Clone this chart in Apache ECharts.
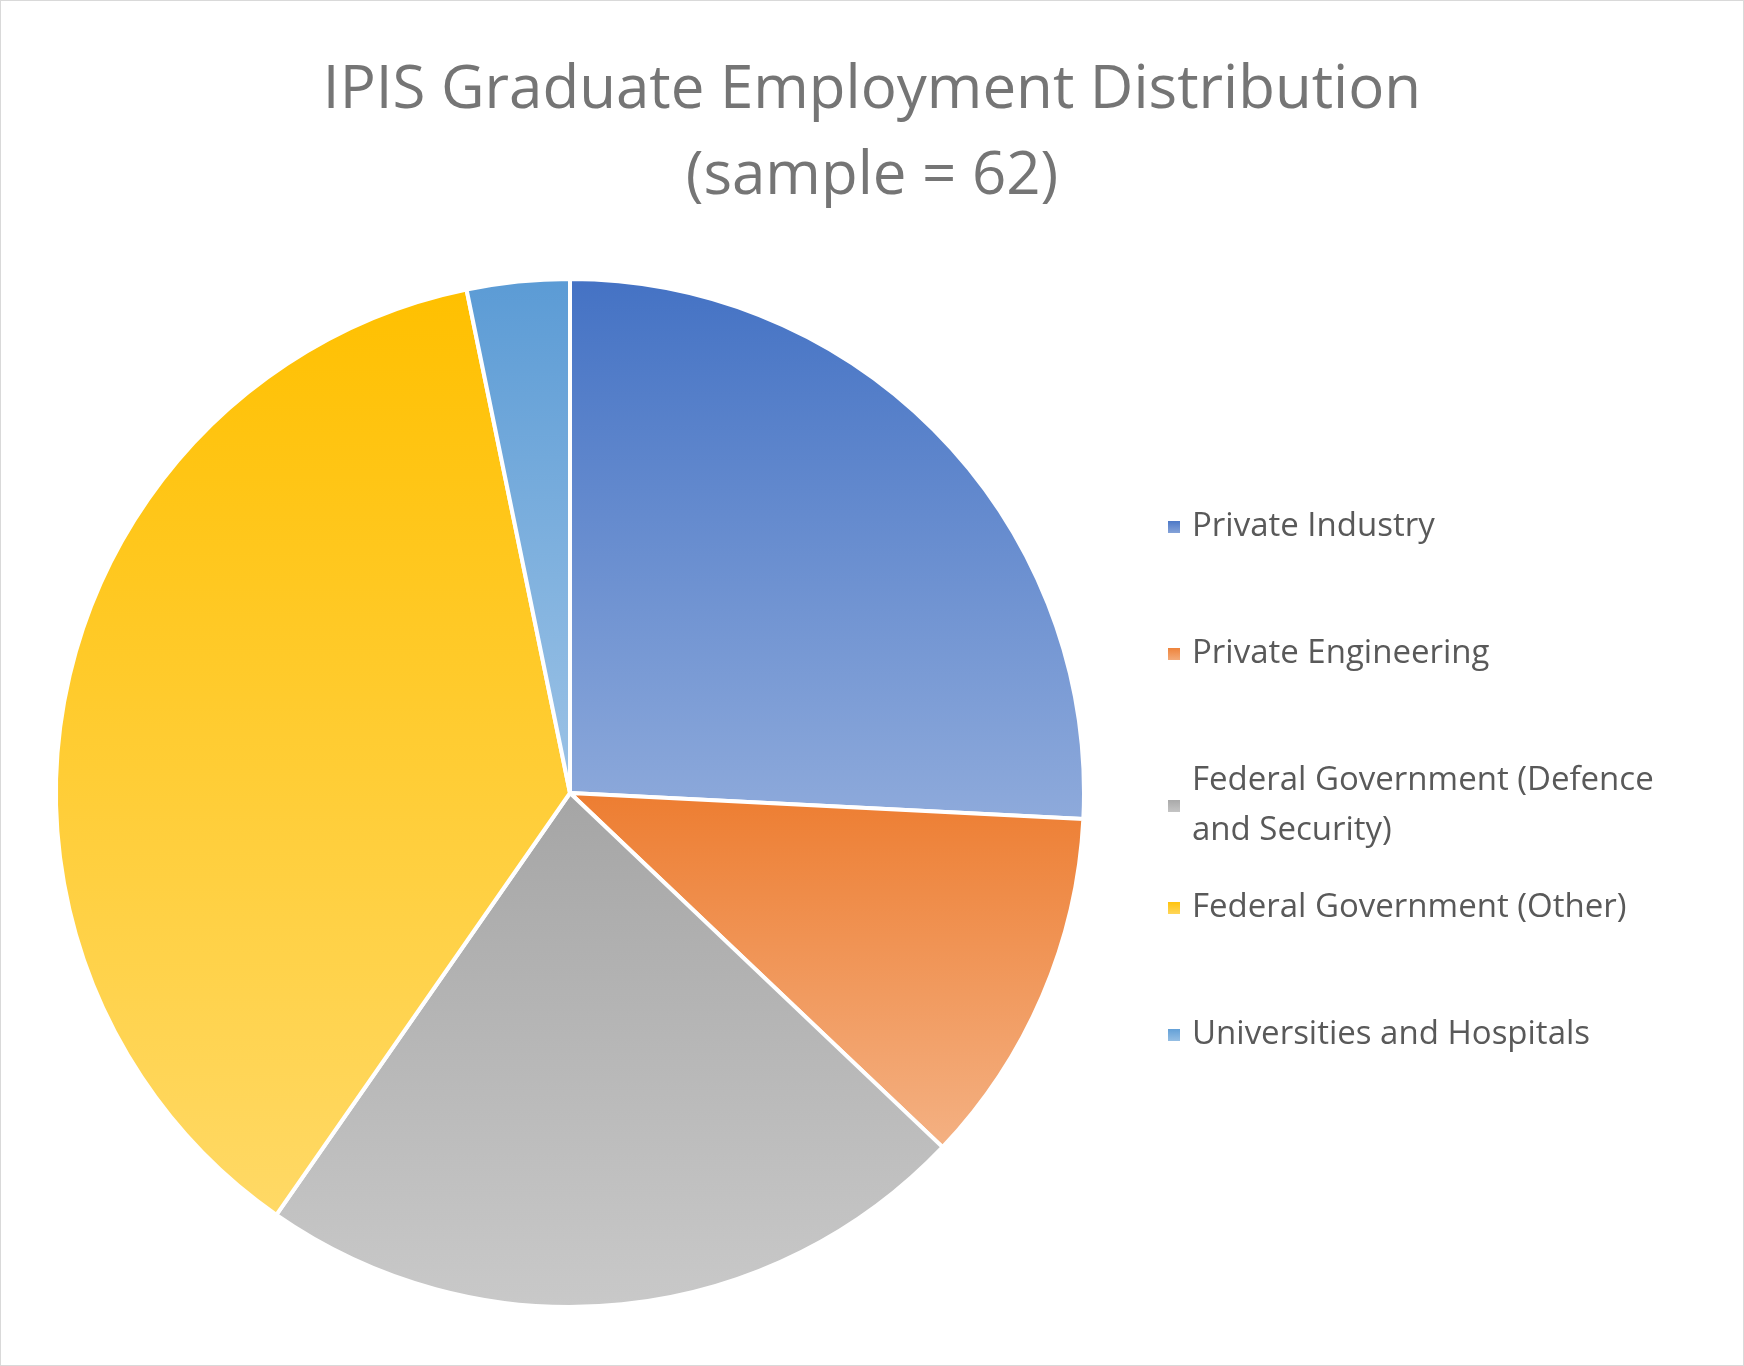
<!DOCTYPE html>
<html>
<head>
<meta charset="utf-8">
<script src="https://cdn.jsdelivr.net/npm/echarts@6/dist/echarts.min.js"></script>
<style>
  html, body { margin: 0; padding: 0; background: #fff; }
  #chart { width: 1742px; height: 1364px; border: 1px solid #d9d9d9; }
</style>
</head>
<body>
<div id="chart"></div>
<script>
const categories = ['Private Industry', 'Private Engineering', 'Federal Government (Defence and Security)', 'Federal Government (Other)', 'Universities and Hospitals'];
const counts = [16, 7, 14, 23, 2];
const legendLabels = ['Private Industry', 'Private Engineering', 'Federal Government (Defence\nand Security)', 'Federal Government (Other)', 'Universities and Hospitals'];

// top and bottom gradient colours for each slice
const topColors = ['#4472c4', '#ed7d31', '#a5a5a5', '#ffc000', '#5b9bd5'];
const bottomColors = ['#8eaadb', '#f4b183', '#c9c9c9', '#ffd966', '#9dc3e6'];

function grad(i) {
    return new echarts.graphic.LinearGradient(0, 0, 0, 1, [
        { offset: 0, color: topColors[i] },
        { offset: 1, color: bottomColors[i] }
    ]);
}

const chart = echarts.init(document.getElementById('chart'));

const legendTops = [496, 623, 750, 877, 1004];
const legends = categories.map(function (c, i) {
    return {
        orient: 'vertical',
        left: 1160,
        top: legendTops[i],
        data: [c],
        icon: 'rect',
        itemWidth: 14,
        itemHeight: 14,
        itemGap: 10,
        formatter: function () { return legendLabels[i]; },
        textStyle: {
            color: '#595959',
            fontSize: 33,
            fontFamily: 'Open Sans',
            lineHeight: 50,
            padding: [0, 0, 0, 6]
        }
    };
});

chart.setOption({
    title: {
        text: 'IPIS Graduate Employment Distribution\n(sample = 62)',
        left: 'center',
        top: 42,
        textStyle: {
            color: '#757575',
            fontSize: 60,
            fontWeight: 'normal',
            fontFamily: 'Open Sans',
            lineHeight: 86
        }
    },
    legend: legends,
    series: [{
        type: 'pie',
        center: [569, 792],
        radius: 514,
        startAngle: 90,
        clockwise: true,
        label: { show: false },
        labelLine: { show: false },
        emphasis: { disabled: true },
        itemStyle: { borderColor: '#fff', borderWidth: 4 },
        data: categories.map(function (c, i) {
            return { name: c, value: counts[i], itemStyle: { color: grad(i) } };
        })
    }]
});
</script>
</body>
</html>
